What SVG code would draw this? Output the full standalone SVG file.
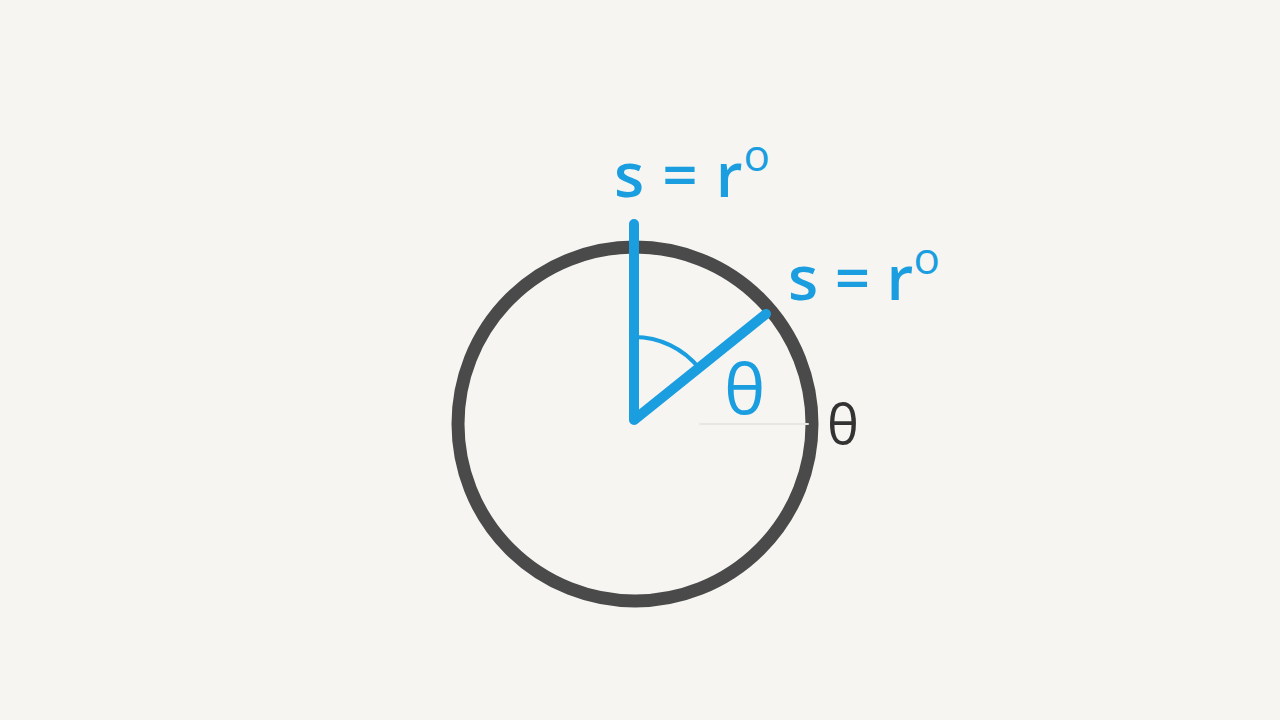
<svg xmlns="http://www.w3.org/2000/svg" width="1280" height="720" viewBox="0 0 1280 720">
<style>
.lbl{font-family:"Open Sans","Liberation Sans",sans-serif;fill:#1b9ee0;font-size:62px;font-weight:600}
.sup{font-size:44px;font-weight:500}
.th{font-family:"Open Sans","DejaVu Sans",sans-serif}
</style>
<rect width="1280" height="720" fill="#f6f5f2"/>
<g id="circle">
<circle cx="635" cy="424" r="177" fill="none" stroke="#4a4a4a" stroke-width="13"/>
</g>
<g id="connectors" fill="none" stroke-linecap="round" stroke-linejoin="round">
<line x1="700" y1="424" x2="808" y2="424" stroke="#e6e6e3" stroke-width="2"/>
<polyline points="634,224 634,420 766,314" stroke="#1b9ee0" stroke-width="10"/>
<path d="M634,337 A83,83 0 0 1 699,368" stroke="#1b9ee0" stroke-width="4"/>
</g>
<g id="label-top"><text class="lbl" x="614" y="197" textLength="156">s = r<tspan class="sup" dy="-26">o</tspan></text></g>
<g id="label-right"><text class="lbl" x="788" y="300" textLength="152">s = r<tspan class="sup" dy="-26">o</tspan></text></g>
<g id="theta-blue"><text class="th" x="724" y="414" font-size="70" fill="#1b9ee0">θ</text></g>
<g id="theta-black"><text class="th" x="827" y="444" font-size="54" fill="#333">θ</text></g>
</svg>
